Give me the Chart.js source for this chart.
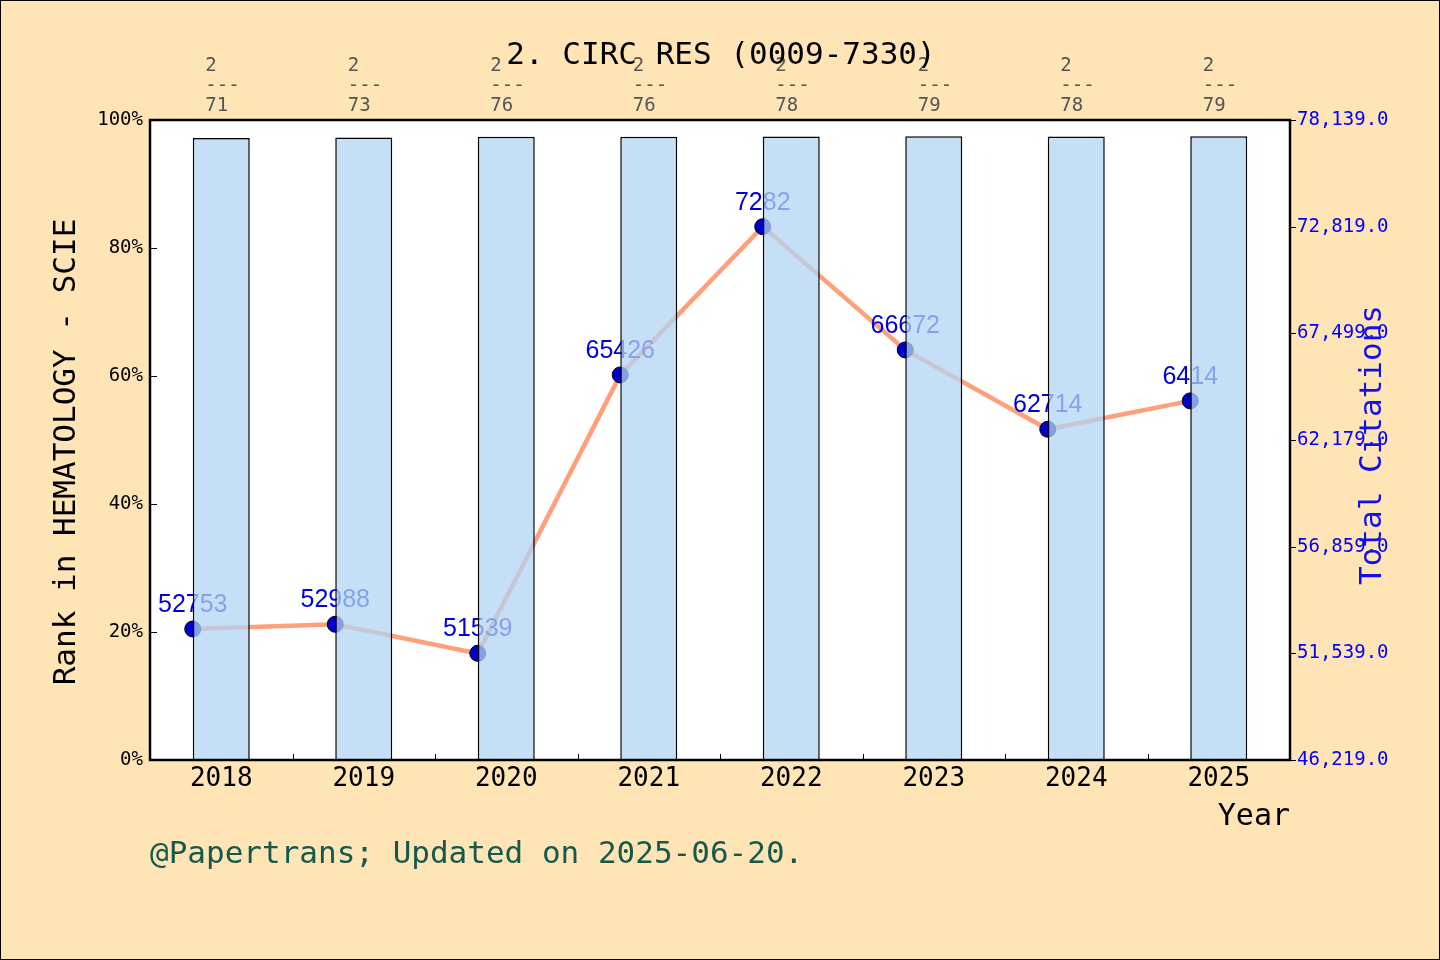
<!DOCTYPE html>
<html>
<head>
<meta charset="utf-8">
<title>2. CIRC RES (0009-7330)</title>
<script src="https://cdn.jsdelivr.net/npm/chart.js@4"></script>
<style>
  html, body { margin: 0; padding: 0; background: #FFE4B5; }
  #wrap { width: 1440px; height: 960px; }
</style>
</head>
<body>
<div id="wrap"><canvas id="chart" width="1440" height="960"></canvas></div>
<script>
// values
const years = ['2018', '2019', '2020', '2021', '2022', '2023', '2024', '2025'];
const ranks = [2, 2, 2, 2, 2, 2, 2, 2];
const totals = [71, 73, 76, 76, 78, 79, 78, 79];
const citations = [52753, 52988, 51539, 65426, 72819, 66672, 62714, 64130];
const citationLabels = ['52753', '52988', '51539', '65426', '7282', '66672', '62714', '6414'];
const rankTicks = [0, 20, 40, 60, 80, 100];
const citationTicks = [46219, 51539, 56859, 62179, 67499, 72819, 78139];

const barPct = 0.4;
const mono = '"DejaVu Sans Mono", monospace';

// bar = share of journals ranked below this one
const rankShare = ranks.map((r, i) => (1 - r / totals[i]) * 100);
// line points sit on the left edge of each bar
const linePoints = citations.map((c, i) => ({ x: i - barPct / 2, y: c }));

function text(ctx, str, x, y, font, color, align, rot) {
    ctx.save();
    ctx.translate(x, y);
    if (rot) ctx.rotate(rot);
    ctx.font = font;
    ctx.fillStyle = color;
    ctx.textAlign = align || 'center';
    ctx.textBaseline = 'middle';
    ctx.fillText(str, 0, 0);
    ctx.restore();
}

const decorations = {
    id: 'decorations',
    beforeDraw(chart) {
        const { ctx, chartArea: a } = chart;
        ctx.save();
        ctx.fillStyle = '#FFE4B5';
        ctx.fillRect(0, 0, chart.width, chart.height);
        ctx.fillStyle = '#ffffff';
        ctx.fillRect(a.left, a.top, a.right - a.left, a.bottom - a.top);
        ctx.restore();
    },
    afterDatasetDraw(chart, args) {
        // value labels go under the translucent bars
        if (args.index !== 1) return;
        const meta = chart.getDatasetMeta(1);
        meta.data.forEach((pt, i) => {
            text(chart.ctx, citationLabels[i], pt.x, pt.y - 24, '25px "Liberation Sans", Arial, sans-serif', '#0000dd');
        });
    },
    afterDraw(chart) {
        const { ctx, chartArea: a, scales } = chart;
        const x = scales.x, yl = scales.y, yr = scales.y2;
        ctx.save();
        ctx.strokeStyle = '#000';
        ctx.lineWidth = 1;
        ctx.beginPath();
        for (let i = 0; i < years.length - 1; i++) {
            const px = Math.round((x.getPixelForValue(i) + x.getPixelForValue(i + 1)) / 2) + 0.5;
            ctx.moveTo(px, a.bottom);
            ctx.lineTo(px, a.bottom - 6);
        }
        rankTicks.forEach(v => {
            const py = Math.round(yl.getPixelForValue(v)) + 0.5;
            ctx.moveTo(a.left, py);
            ctx.lineTo(a.left + 7, py);
        });
        citationTicks.forEach(v => {
            const py = Math.round(yr.getPixelForValue(v)) + 0.5;
            ctx.moveTo(a.right, py);
            ctx.lineTo(a.right + 6, py);
        });
        ctx.stroke();
        ctx.lineWidth = 2.5;
        ctx.strokeRect(a.left, a.top, a.right - a.left, a.bottom - a.top);
        ctx.lineWidth = 1;
        ctx.strokeRect(0.5, 0.5, chart.width - 1, chart.height - 1);
        ctx.restore();

        // rank fractions above each year
        years.forEach((y, i) => {
            const left = x.getPixelForValue(i) - 16;
            const f = '19px ' + mono;
            text(ctx, String(ranks[i]), left, 66, f, '#555555', 'left');
            text(ctx, '---', left, 86, f, '#555555', 'left');
            text(ctx, String(totals[i]), left, 106, f, '#555555', 'left');
        });

        text(ctx, '2. CIRC RES (0009-7330)', 721, 56, '31px ' + mono, '#000000');
        text(ctx, 'Rank in HEMATOLOGY - SCIE', 67, 452, '31px ' + mono, '#000000', 'center', -Math.PI / 2);
        text(ctx, 'Total Citations', 1373, 445, '31px ' + mono, '#1010ee', 'center', -Math.PI / 2);
        text(ctx, 'Year', a.right, 817, '30px ' + mono, '#000000', 'right');
        text(ctx, '@Papertrans; Updated on 2025-06-20.', a.left, 855, '31px ' + mono, '#15594d', 'left');
    }
};

new Chart(document.getElementById('chart'), {
    type: 'bar',
    data: {
        labels: years,
        datasets: [{
            type: 'bar',
            data: rankShare,
            xAxisID: 'x',
            yAxisID: 'y',
            backgroundColor: 'rgba(178, 214, 243, 0.75)',
            borderColor: '#000000',
            borderWidth: 1.5,
            grouped: false,
            barPercentage: barPct,
            categoryPercentage: 1,
            order: 0
        }, {
            type: 'line',
            data: linePoints,
            xAxisID: 'xl',
            yAxisID: 'y2',
            borderColor: '#FFA07A',
            borderWidth: 4.5,
            pointRadius: 8,
            pointBackgroundColor: '#0000CD',
            pointBorderColor: '#000000',
            pointBorderWidth: 1,
            tension: 0,
            order: 1
        }]
    },
    options: {
        responsive: false,
        animation: false,
        devicePixelRatio: 1,
        layout: { padding: { top: 120, left: 0, right: 0, bottom: 0 } },
        plugins: {
            legend: { display: false },
            tooltip: { enabled: false },
            title: { display: false }
        },
        scales: {
            x: {
                type: 'category',
                offset: true,
                grid: { display: false, drawTicks: false },
                border: { display: false },
                ticks: { color: '#000', padding: 4, font: { family: mono, size: 26 } },
                afterFit(s) { s.height = 200; }
            },
            xl: {
                type: 'linear',
                display: false,
                offset: false,
                min: -0.5,
                max: years.length - 0.5
            },
            y: {
                position: 'left',
                min: 0,
                max: 100,
                grid: { display: false, drawTicks: false },
                border: { display: false },
                afterBuildTicks(s) { s.ticks = rankTicks.map(v => ({ value: v })); },
                ticks: {
                    color: '#000',
                    padding: 7,
                    font: { family: mono, size: 19 },
                    callback: v => v + '%'
                },
                afterFit(s) { s.width = 150; }
            },
            y2: {
                position: 'right',
                min: citationTicks[0],
                max: citationTicks[citationTicks.length - 1],
                grid: { display: false, drawTicks: false },
                border: { display: false },
                afterBuildTicks(s) { s.ticks = citationTicks.map(v => ({ value: v })); },
                ticks: {
                    color: '#0000ff',
                    padding: 7,
                    font: { family: mono, size: 19 },
                    callback: v => v.toLocaleString('en-US', { minimumFractionDigits: 1, maximumFractionDigits: 1 })
                },
                afterFit(s) { s.width = 150; }
            }
        }
    },
    plugins: [decorations]
});
</script>
</body>
</html>
